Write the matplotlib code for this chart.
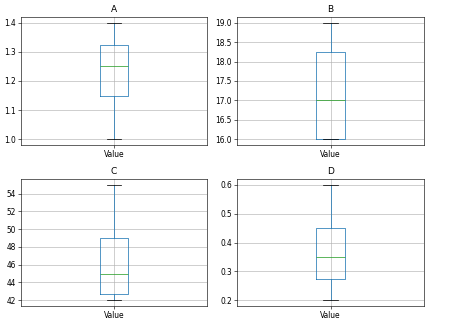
import matplotlib
matplotlib.use("Agg")
import matplotlib.pyplot as plt

groups = ["A", "B", "C", "D"]
values_a = [1.0, 1.2, 1.3, 1.4]
values_b = [16, 16, 18, 19]
values_c = [42, 43, 47, 55]
values_d = [0.2, 0.3, 0.4, 0.6]
data = [values_a, values_b, values_c, values_d]
xlabel = "Value"

dpi = 54
fig = plt.figure(figsize=(474 / dpi, 334 / dpi), dpi=dpi)
W, H = 474, 334
rects = [
    (21, 17, 207, 145),
    (237, 17, 424, 145),
    (21, 179, 207, 306),
    (237, 179, 424, 306),
]
for g, vals, (x0, y0, x1, y1) in zip(groups, data, rects):
    ax = fig.add_axes([x0 / W, 1 - y1 / H, (x1 - x0) / W, (y1 - y0) / H])
    ax.boxplot(
        vals,
        boxprops=dict(color="C0"),
        whiskerprops=dict(color="C0"),
        medianprops=dict(color="C2"),
        capprops=dict(color="k"),
        flierprops=dict(markeredgecolor="C0"),
    )
    ax.set_xticks([1])
    ax.set_xticklabels([xlabel])
    ax.grid(True, color="#b0b0b0", linewidth=0.8)
    ax.set_axisbelow(True)
    ax.set_title(g)

fig.savefig("out.png", dpi=dpi)
